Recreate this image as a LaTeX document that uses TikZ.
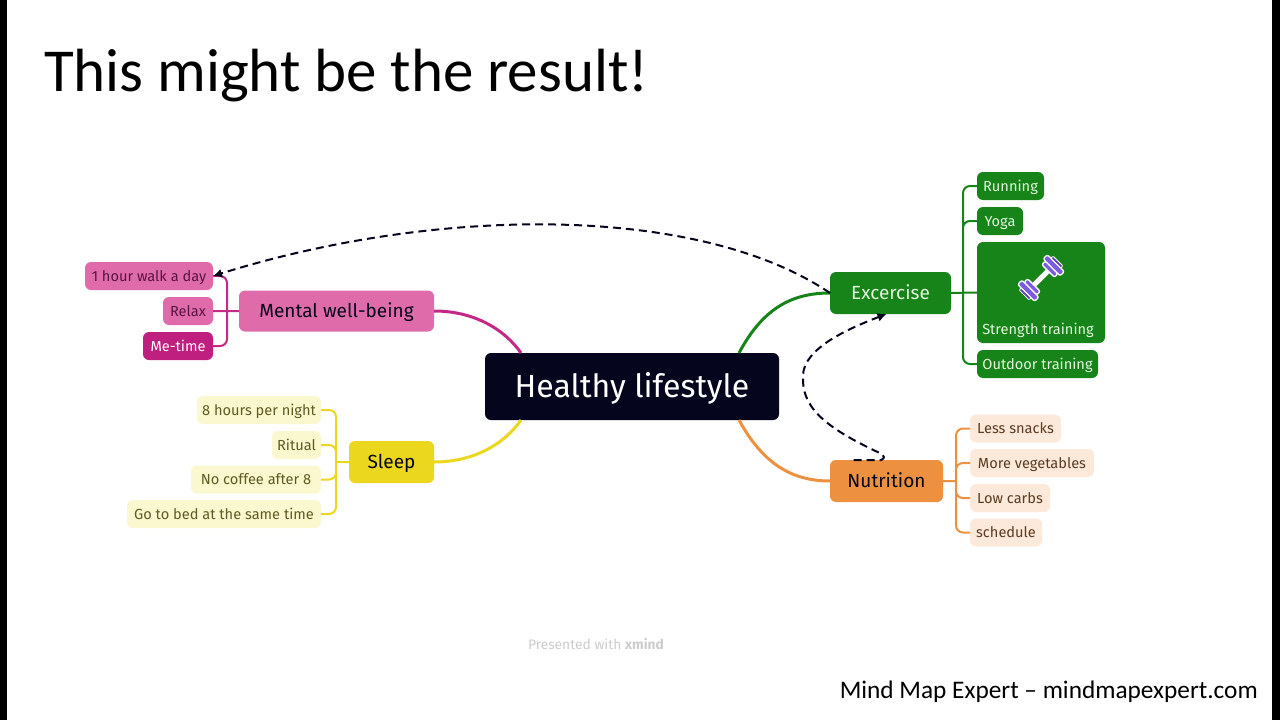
\documentclass[tikz,border=0pt]{standalone}
\usepackage{fontspec}
\setmainfont{Fira Sans}
\newfontfamily\slidefont{Carlito}
\usetikzlibrary{positioning,arrows.meta}

\definecolor{navy}{HTML}{05051E}
\definecolor{gr}{HTML}{168419}
\definecolor{grtext}{HTML}{E2F6DC}
\definecolor{pk}{HTML}{DF6BAB}
\definecolor{pkdark}{HTML}{BF1F7E}
\definecolor{pktext}{HTML}{5A1443}
\definecolor{yl}{HTML}{EAD71E}
\definecolor{ylpale}{HTML}{FBF7CF}
\definecolor{yltext}{HTML}{5F5B22}
\definecolor{or}{HTML}{ED9140}
\definecolor{orpale}{HTML}{FCE9DA}
\definecolor{ortext}{HTML}{5C3B22}
\definecolor{plate}{HTML}{7B5CE0}

\tikzset{
  boxtext/.style={inner sep=0pt, outer sep=0pt, execute at begin node={\rule[-0.2em]{0pt}{1.1em}}, font=\fontsize{14.6}{15}\selectfont},
  box/.style={boxtext, rounded corners=6pt},
  branch/.style={box, font=\fontsize{19}{20}\selectfont, text=navy},
  grleaf/.style={box, fill=gr, text=grtext},
  pkleaf/.style={box, fill=pk, text=pktext},
  ylleaf/.style={box, fill=ylpale, text=yltext},
  orleaf/.style={box, fill=orpale, text=ortext},
  link/.style={line width=2pt, rounded corners=7pt},
  mainlink/.style={line width=3pt},
  relation/.style={navy, line width=2pt, dash pattern=on 8pt off 5pt, -{Latex[length=9pt,width=9pt]}},
}

\begin{document}
\begin{tikzpicture}[x=1pt, y=-1pt]
\useasboundingbox (0,0) rectangle (1280,720);
\fill[black] (0,0) rectangle (7,720);
\fill[black] (1272,0) rectangle (1280,720);

\node[anchor=west, inner sep=0pt, font=\slidefont\fontsize{61}{61}\selectfont] (title) at (44,76) {This might be the result!};
\node[anchor=east, inner sep=0pt, font=\slidefont\fontsize{25.3}{26}\selectfont] (credit) at (1258,692) {Mind Map Expert – mindmapexpert.com};
\node[text=black!20, font=\fontsize{13.8}{14}\selectfont] (brand) at (596,644) {Presented with \textbf{xmind}};

\node[box, fill=navy, text=white, minimum width=294pt, minimum height=67pt, font=\fontsize{32}{33}\selectfont] (central) at (632,386.5) {Healthy lifestyle};

\node[branch, fill=pk, minimum width=195pt, minimum height=41pt] (mental) at (336.5,311) {Mental well-being};
\node[branch, fill=yl, minimum width=85pt, minimum height=42pt] (sleep) at (391.5,462) {Sleep};
\node[branch, fill=gr, text=grtext, minimum width=121pt, minimum height=42pt] (excercise) at (890.5,293) {Excercise};
\node[branch, fill=or, minimum width=113pt, minimum height=42pt] (nutrition) at (886.5,481) {Nutrition};

% exercise leaves
\node[grleaf, minimum width=67pt, minimum height=28pt] (running) at (1010.5,186) {Running};
\node[grleaf, minimum width=46pt, minimum height=28pt] (yoga) at (1000,221) {Yoga};
\node[grleaf, minimum width=128pt, minimum height=101pt] (strength) at (1041,292.5) {};
\node[boxtext, text=grtext] (strengthtext) at (1038,329.5) {Strength training};
\node[grleaf, minimum width=121pt, minimum height=28pt] (outdoor) at (1037.5,364) {Outdoor training};

% nutrition leaves
\node[orleaf, minimum width=91pt, minimum height=28pt] (snacks) at (1015.5,428.5) {Less snacks};
\node[orleaf, minimum width=124pt, minimum height=28pt] (vegetables) at (1032,463) {More vegetables};
\node[orleaf, minimum width=80pt, minimum height=28pt] (carbs) at (1010,498) {Low carbs};
\node[orleaf, minimum width=72pt, minimum height=28pt] (schedule) at (1006,532.5) {schedule};

% mental leaves
\node[pkleaf, minimum width=128pt, minimum height=28pt] (walk) at (149,276) {1 hour walk a day};
\node[pkleaf, minimum width=50pt, minimum height=28pt] (relax) at (188,311) {Relax};
\node[pkleaf, fill=pkdark, text=white, minimum width=70pt, minimum height=28pt] (metime) at (178,346) {Me-time};

% sleep leaves
\node[ylleaf, minimum width=124pt, minimum height=28pt] (hours) at (259,410) {8 hours per night};
\node[ylleaf, minimum width=49pt, minimum height=28pt] (ritual) at (296.5,445) {Ritual};
\node[ylleaf, minimum width=130pt, minimum height=28pt] (coffee) at (256,479.5) {No coffee after 8\hspace{5pt}};
\node[ylleaf, minimum width=194pt, minimum height=28pt] (bed) at (224,514) {Go to bed at the same time};

\coordinate (grtrunk) at (963,293);
\coordinate (ortrunk) at (956,481);
\coordinate (pktrunk) at (227,311);
\coordinate (yltrunk) at (336,462);

\coordinate (centralne) at (739,353);
\coordinate (centralse) at (739,420);
\coordinate (centralnw) at (521,353);
\coordinate (centralsw) at (521,420);

\draw[mainlink, gr] (centralne) .. controls (762,310) and (790,293) .. (excercise.west);
\draw[mainlink, or] (centralse) .. controls (762,462) and (790,481) .. (nutrition.west);
\draw[mainlink, pkdark!85!pk] (mental.east) .. controls (475,311) and (505,330) .. (centralnw);
\draw[mainlink, yl] (sleep.east) .. controls (475,462) and (505,443) .. (centralsw);

\path[link, gr, draw]
  (excercise.east) -- (strength.west)
  (running.west) -| (grtrunk) |- (outdoor.west)
  (yoga.west) -| (grtrunk);
\path[link, or, draw]
  (nutrition.east) -- (ortrunk)
  (snacks.west) -| (ortrunk) |- (schedule.west)
  (vegetables.west) -| (ortrunk)
  (carbs.west) -| (ortrunk);
\path[link, pkdark!85!pk, draw]
  (mental.west) -- (relax.east)
  (walk.east) -| (pktrunk) |- (metime.east);
\path[link, yl, draw]
  (sleep.west) -- (yltrunk)
  (hours.east) -| (yltrunk) |- (bed.east)
  (ritual.east) -| (yltrunk)
  (coffee.east) -| (yltrunk);

% dumbbell on the strength card
\begin{scope}[shift={(strength.center)}, yshift=14.5pt, rotate=45]
  \fill[white] (-17,-2.5) rectangle (17,2.5);
  \foreach \s in {-1,1} {
    \filldraw[draw=white, fill=plate, line width=1.3pt, rounded corners=2pt] (\s*10,-9) rectangle (\s*15,9);
    \filldraw[draw=white, fill=plate, line width=1.3pt, rounded corners=2pt] (\s*15,-12) rectangle (\s*21,12);
    \filldraw[draw=white, fill=plate!75!black, line width=0.8pt, rounded corners=1pt] (\s*21,-7) rectangle (\s*24,7);
  }
\end{scope}

% relations
\draw[relation] (excercise.west) .. controls (700,205) and (440,205) .. (walk.east);
\draw[relation, rounded corners=2pt] ([xshift=-33pt]nutrition.north) -- ([xshift=-3pt]nutrition.north) -- (884,455)
  .. controls (830,430) and (803,410) .. (803,378)
  .. controls (803,348) and (850,328) .. (excercise.south -| nutrition.north);
\end{tikzpicture}
\end{document}
